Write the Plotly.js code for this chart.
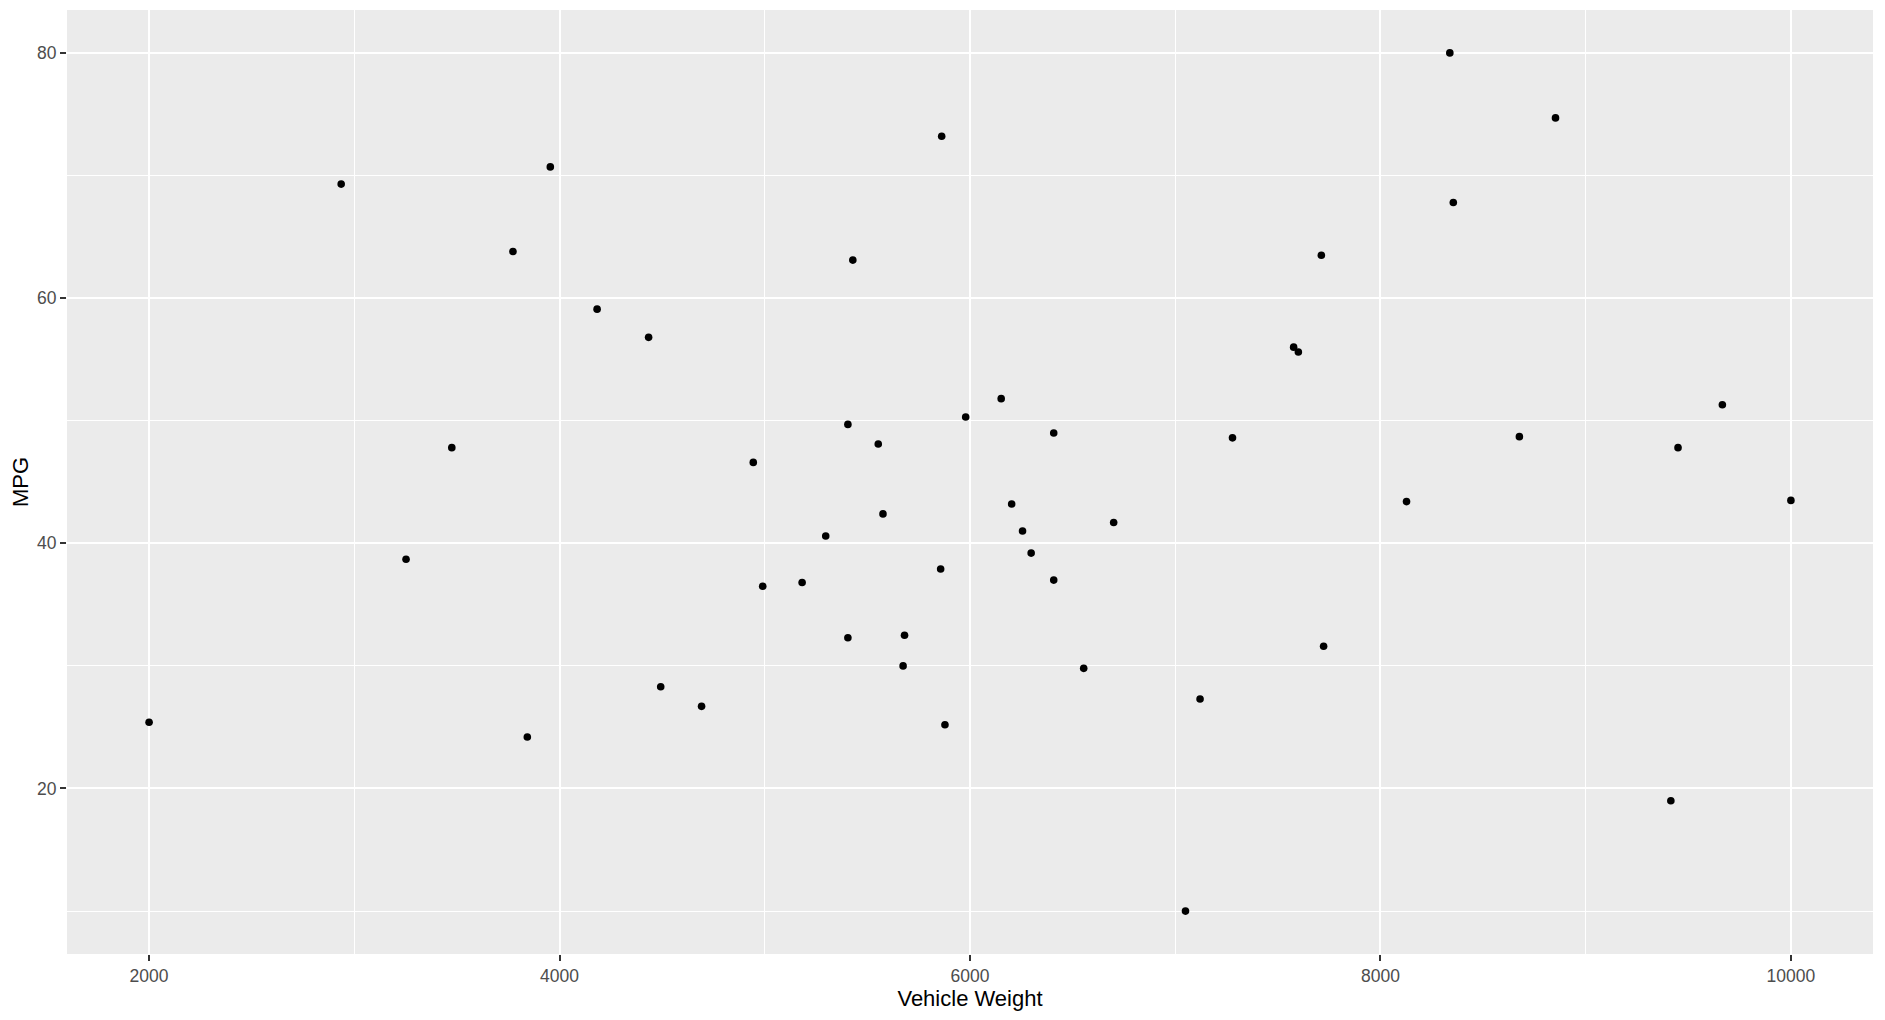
<!DOCTYPE html>
<html>
<head>
<meta charset="utf-8">
<script src="https://cdn.plot.ly/plotly-3.0.1.min.js"></script>
<style>
html,body{margin:0;padding:0;background:#fff;}
#chart{width:1885px;height:1020px;}
</style>
</head>
<body>
<div id="chart"></div>
<script>
const vehicleWeight = [2000, 2936, 3252, 3475, 3773, 3843, 3955, 4183, 4434, 4493,
  4692, 4944, 4990, 5182, 5297, 5405, 5405, 5429, 5553, 5576,
  5674, 5681, 5862, 5857, 5878, 5979, 6152, 6203, 6256, 6298,
  6408, 6408, 6554, 6700, 7050, 7121, 7279, 7577, 7600, 7712,
  7723, 8127, 8338, 8355, 8677, 8853, 9415, 9450, 9666, 10000];
const mpgValues = [25.4, 69.3, 38.7, 47.8, 63.8, 24.2, 70.7, 59.1, 56.8, 28.3,
  26.7, 46.6, 36.5, 36.8, 40.6, 49.7, 32.3, 63.1, 48.1, 42.4,
  30.0, 32.5, 73.2, 37.9, 25.2, 50.3, 51.8, 43.2, 41.0, 39.2,
  49.0, 37.0, 29.8, 41.7, 10.0, 27.3, 48.6, 56.0, 55.6, 63.5,
  31.6, 43.4, 80.0, 67.8, 48.7, 74.7, 19.0, 47.8, 51.3, 43.5];
const xTickVals = [2000, 4000, 6000, 8000, 10000];
const yTickVals = [20, 40, 60, 80];

const trace = {
  type: 'scatter',
  mode: 'markers',
  x: vehicleWeight,
  y: mpgValues,
  marker: {color: '#000000', size: 7.6, line: {width: 0}},
  hoverinfo: 'x+y'
};

const font = 'Liberation Sans, Arial, sans-serif';
const layout = {
  width: 1885,
  height: 1020,
  margin: {l: 67, r: 12, t: 10, b: 66, pad: 0},
  paper_bgcolor: '#FFFFFF',
  plot_bgcolor: '#EBEBEB',
  showlegend: false,
  font: {family: font},
  xaxis: {
    range: [1600, 10400],
    tickmode: 'array',
    tickvals: xTickVals,
    ticktext: xTickVals.map(String),
    ticks: 'outside',
    ticklen: 6,
    tickwidth: 1.5,
    tickcolor: '#333333',
    tickfont: {family: font, size: 17.5, color: '#4D4D4D'},
    showgrid: true,
    gridcolor: '#FFFFFF',
    gridwidth: 2.2,
    minor: {dtick: 1000, tick0: 1000, showgrid: true, gridcolor: '#FFFFFF', gridwidth: 1.1, ticks: ''},
    zeroline: false,
    showline: false,
    automargin: false,
    title: {text: 'Vehicle Weight', font: {family: font, size: 22, color: '#000000'}, standoff: 4}
  },
  yaxis: {
    range: [6.5, 83.5],
    tickmode: 'array',
    tickvals: yTickVals,
    ticktext: yTickVals.map(String),
    ticks: 'outside',
    ticklen: 6,
    tickwidth: 1.5,
    tickcolor: '#333333',
    tickfont: {family: font, size: 17.5, color: '#4D4D4D'},
    showgrid: true,
    gridcolor: '#FFFFFF',
    gridwidth: 2.2,
    minor: {dtick: 20, tick0: 10, showgrid: true, gridcolor: '#FFFFFF', gridwidth: 1.1, ticks: ''},
    zeroline: false,
    showline: false,
    automargin: false,
    title: {text: 'MPG', font: {family: font, size: 22, color: '#000000'}, standoff: 2}
  }
};

Plotly.newPlot('chart', [trace], layout, {displayModeBar: false, staticPlot: false});
</script>
</body>
</html>
